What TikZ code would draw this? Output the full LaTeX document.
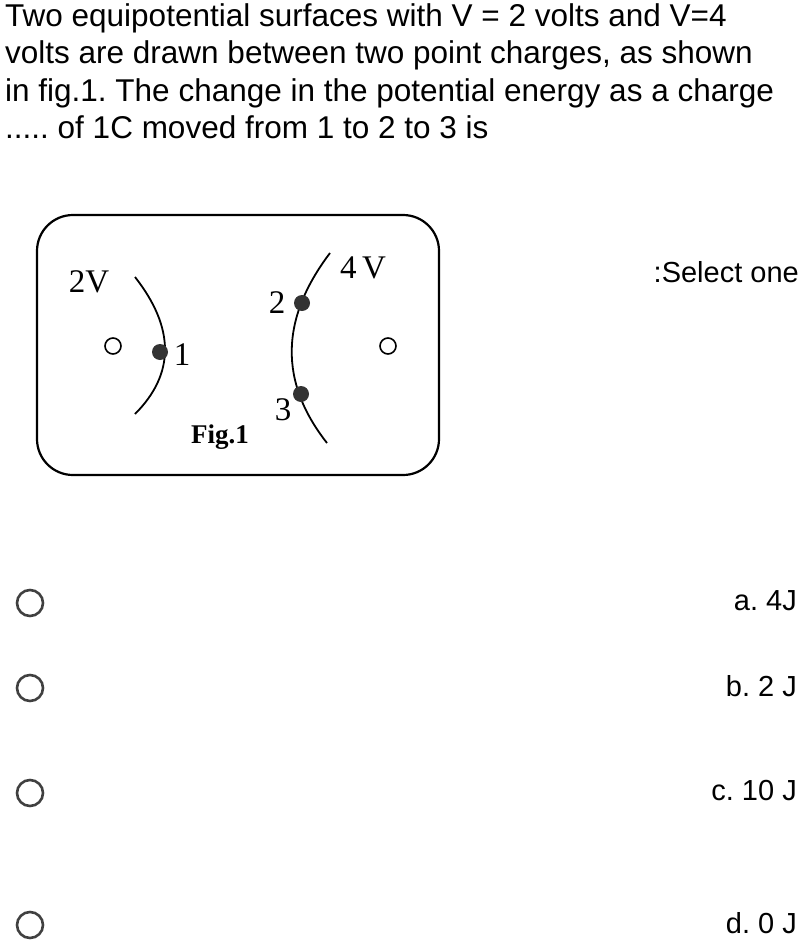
\documentclass[tikz,border=0pt]{standalone}
\usepackage{fontspec}
\setmainfont{Liberation Sans}
\newfontfamily\figfont{Liberation Serif}
\frenchspacing
\begin{document}
\begin{tikzpicture}[x=1pt,y=-1pt,
  qtext/.style={font=\fontsize{31.5}{37.5}\selectfont, anchor=north west, align=left, inner sep=0},
  opt/.style={circle, draw=black!75, line width=2.6pt, minimum size=26pt, inner sep=0},
  ans/.style={font=\fontsize{29}{32}\selectfont, anchor=east, inner sep=0},
  flab/.style={font=\figfont\fontsize{33}{34}\selectfont, inner sep=0},
  dotc/.style={circle, fill=black!80, minimum size=16pt, inner sep=0},
  hollow/.style={circle, draw, line width=1.6pt, minimum size=16pt, inner sep=0},
  arcl/.style={line width=1.8pt}]
\useasboundingbox (0,0) rectangle (802,950);
\node[qtext] (q) at (5,3) {Two equipotential surfaces with V = 2 volts and V=4\\volts are drawn between two point charges, as shown\\in fig.1. The change in the potential energy as a charge\\..... of 1C moved from 1 to 2 to 3 is};
\node[draw, line width=2.2pt, rounded corners=36pt, minimum width=402pt, minimum height=260pt, inner sep=0] (box) at (238,345) {};
\node[hollow] (c1) at (113,346) {};
\node[hollow] (c2) at (388,346) {};
\coordinate (la) at (135,277); \coordinate (lb) at (135,414);
\coordinate (ra) at (330,253); \coordinate (rb) at (327,443);
\draw[arcl] (la) .. controls (175,328) and (175,374) .. (lb);
\draw[arcl] (ra) .. controls (280,319) and (279,382) .. (rb);
\node[dotc] (p1) at (160,352) {};
\node[dotc] (p2) at (302,303) {};
\node[dotc] (p3) at (301,394) {};
\node[flab] (l2v) at (89,282) {2V};
\node[flab] (l4v) at (363,268) {4\,V};
\node[flab] (n1) at (182,355) {1};
\node[flab] (n2) at (277,303) {2};
\node[flab] (n3) at (283,410) {3};
\node[flab, font=\figfont\bfseries\fontsize{27}{28}\selectfont] (fig) at (220,437) {Fig.1};
\node[ans] (sel) at (799,272) {:Select one};
\node[opt] (oa) at (30,603) {}; \node[ans] (ta) at (797,601) {a. 4J};
\node[opt] (ob) at (30,688) {}; \node[ans] (tb) at (797,686) {b. 2 J};
\node[opt] (oc) at (30,793) {}; \node[ans] (tc) at (797,791) {c. 10 J};
\node[opt] (od) at (30,925) {}; \node[ans] (td) at (797,923) {d. 0 J};
\end{tikzpicture}
\end{document}
